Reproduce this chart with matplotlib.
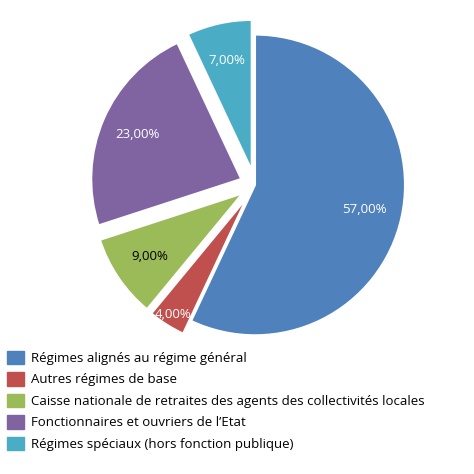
import matplotlib.pyplot as plt
from matplotlib.patches import Patch

labels = ['Régimes alignés au régime général', 'Autres régimes de base',
          'Caisse nationale de retraites des agents des collectivités locales',
          "Fonctionnaires et ouvriers de l’Etat", 'Régimes spéciaux (hors fonction publique)']
values = [57, 4, 9, 23, 7]
colors = ['#4F81BD', '#C0504D', '#9BBB59', '#8064A2', '#4BACC6']
explode = [0, 0.1, 0.1, 0.1, 0.1]
text_colors = ['white', 'white', 'black', 'white', 'white']

plt.rcParams['font.family'] = ['Open Sans', 'DejaVu Sans']
fig = plt.figure(figsize=(4.74, 4.74), dpi=100)
ax = fig.add_axes([0, 0.28, 1, 0.72])
wedges, texts, autotexts = ax.pie(values, colors=colors, explode=explode, startangle=90,
                                  counterclock=False, autopct=lambda p: f'{p:.2f}%'.replace('.', ','),
                                  pctdistance=0.75, wedgeprops=dict(edgecolor='white', linewidth=1.5),
                                  textprops=dict(fontsize=9.5))
for t, c in zip(autotexts, text_colors):
    t.set_color(c)
autotexts[1].set_position((autotexts[1].get_position()[0] * 1.2, autotexts[1].get_position()[1] * 1.2))
ax.set_xlim(-1.7, 1.46)
ax.set_ylim(-1.04, 1.23)
ax.set_aspect('auto')
ax.axis('off')

handles = [Patch(color=c) for c in colors]
fig.legend(handles, labels, loc='upper left', bbox_to_anchor=(-0.01, 0.285), frameon=False,
           fontsize=9.5, handlelength=1.3, handleheight=1.2, labelspacing=0.55, handletextpad=0.5)
fig.savefig('out.png', dpi=100)
